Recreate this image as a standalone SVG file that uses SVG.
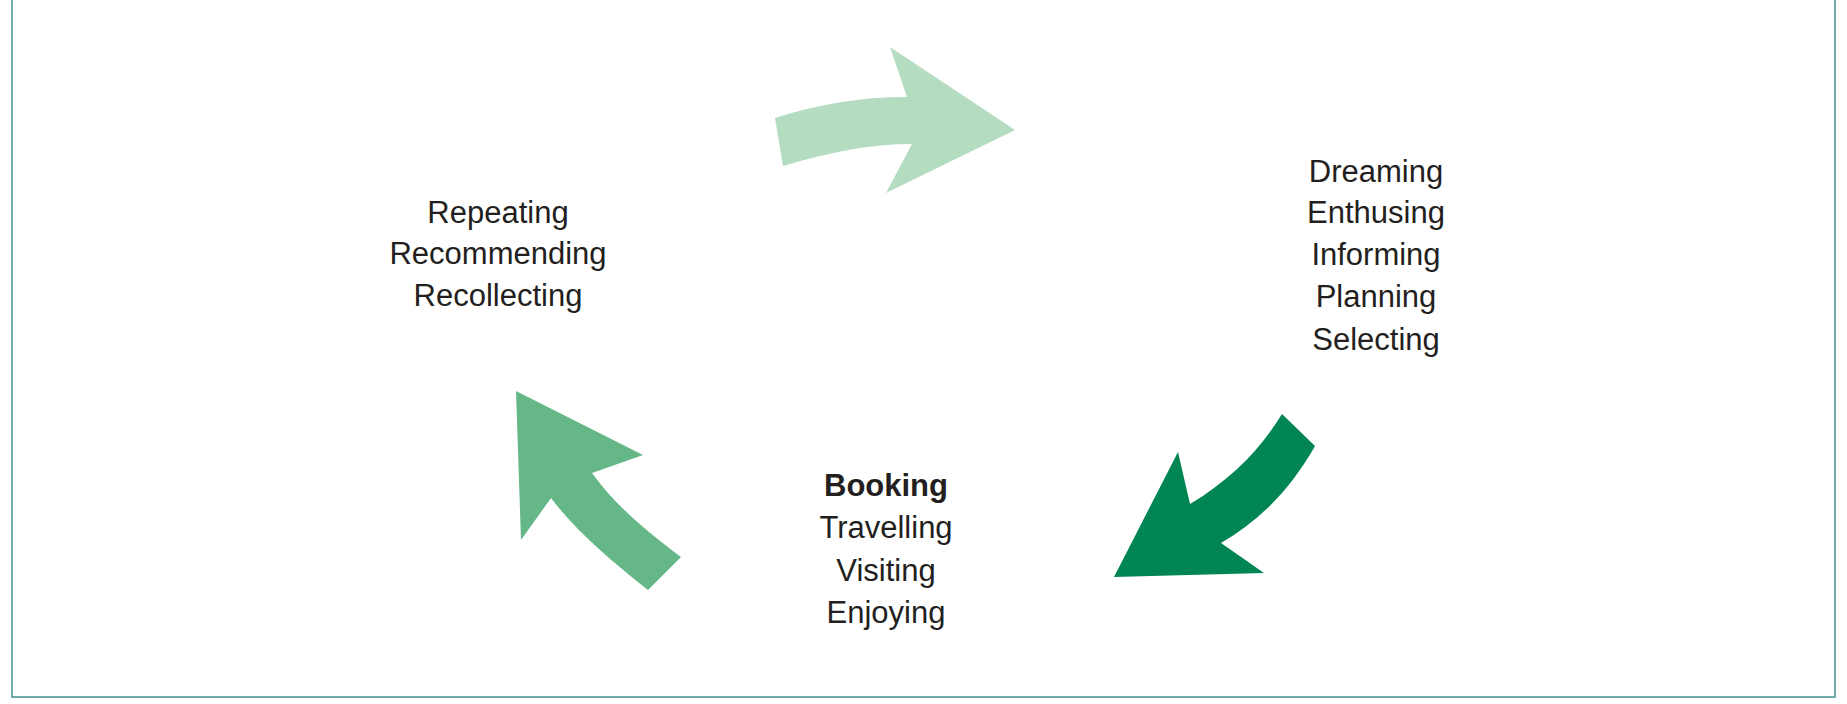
<svg xmlns="http://www.w3.org/2000/svg" width="1847" height="704" viewBox="0 0 1847 704">
<style>
text{font-family:"Liberation Sans",Arial,sans-serif;font-size:31px;fill:#231f20;text-anchor:middle}
.b{font-weight:bold}
</style>
<rect x="0" y="0" width="1847" height="704" fill="#fff"/>
<rect x="12" y="-2" width="1823" height="699" fill="none" stroke="#3f8f8c" stroke-width="1.5"/>
<g id="connectors">
<path d="M775,118 C820,104 860,97 907,97 L890,47 L1015,130 L886,193 L912,144 C870,144 830,152 783,166 Z" fill="#b3dcc0"/>
<path d="M1282,414 L1315,446 C1290,490 1260,520 1221,543 L1264,573 L1114,577 L1178,452 L1190,504 C1230,480 1260,450 1282,414 Z" fill="#008553"/>
<path d="M681,557 L648,590 C610,560 575,530 551,498 L521,540 L516,391 L643,455 L592,473 C615,505 645,530 681,557 Z" fill="#66b787"/>
</g>
<g id="node-reflect"><text x="498" y="223">Repeating</text><text x="498" y="264">Recommending</text><text x="498" y="306">Recollecting</text></g>
<g id="node-dream"><text x="1376" y="182">Dreaming</text><text x="1376" y="223">Enthusing</text><text x="1376" y="265">Informing</text><text x="1376" y="307">Planning</text><text x="1376" y="350">Selecting</text></g>
<g id="node-book"><text class="b" x="886" y="496">Booking</text><text x="886" y="538">Travelling</text><text x="886" y="581">Visiting</text><text x="886" y="623">Enjoying</text></g>
</svg>
